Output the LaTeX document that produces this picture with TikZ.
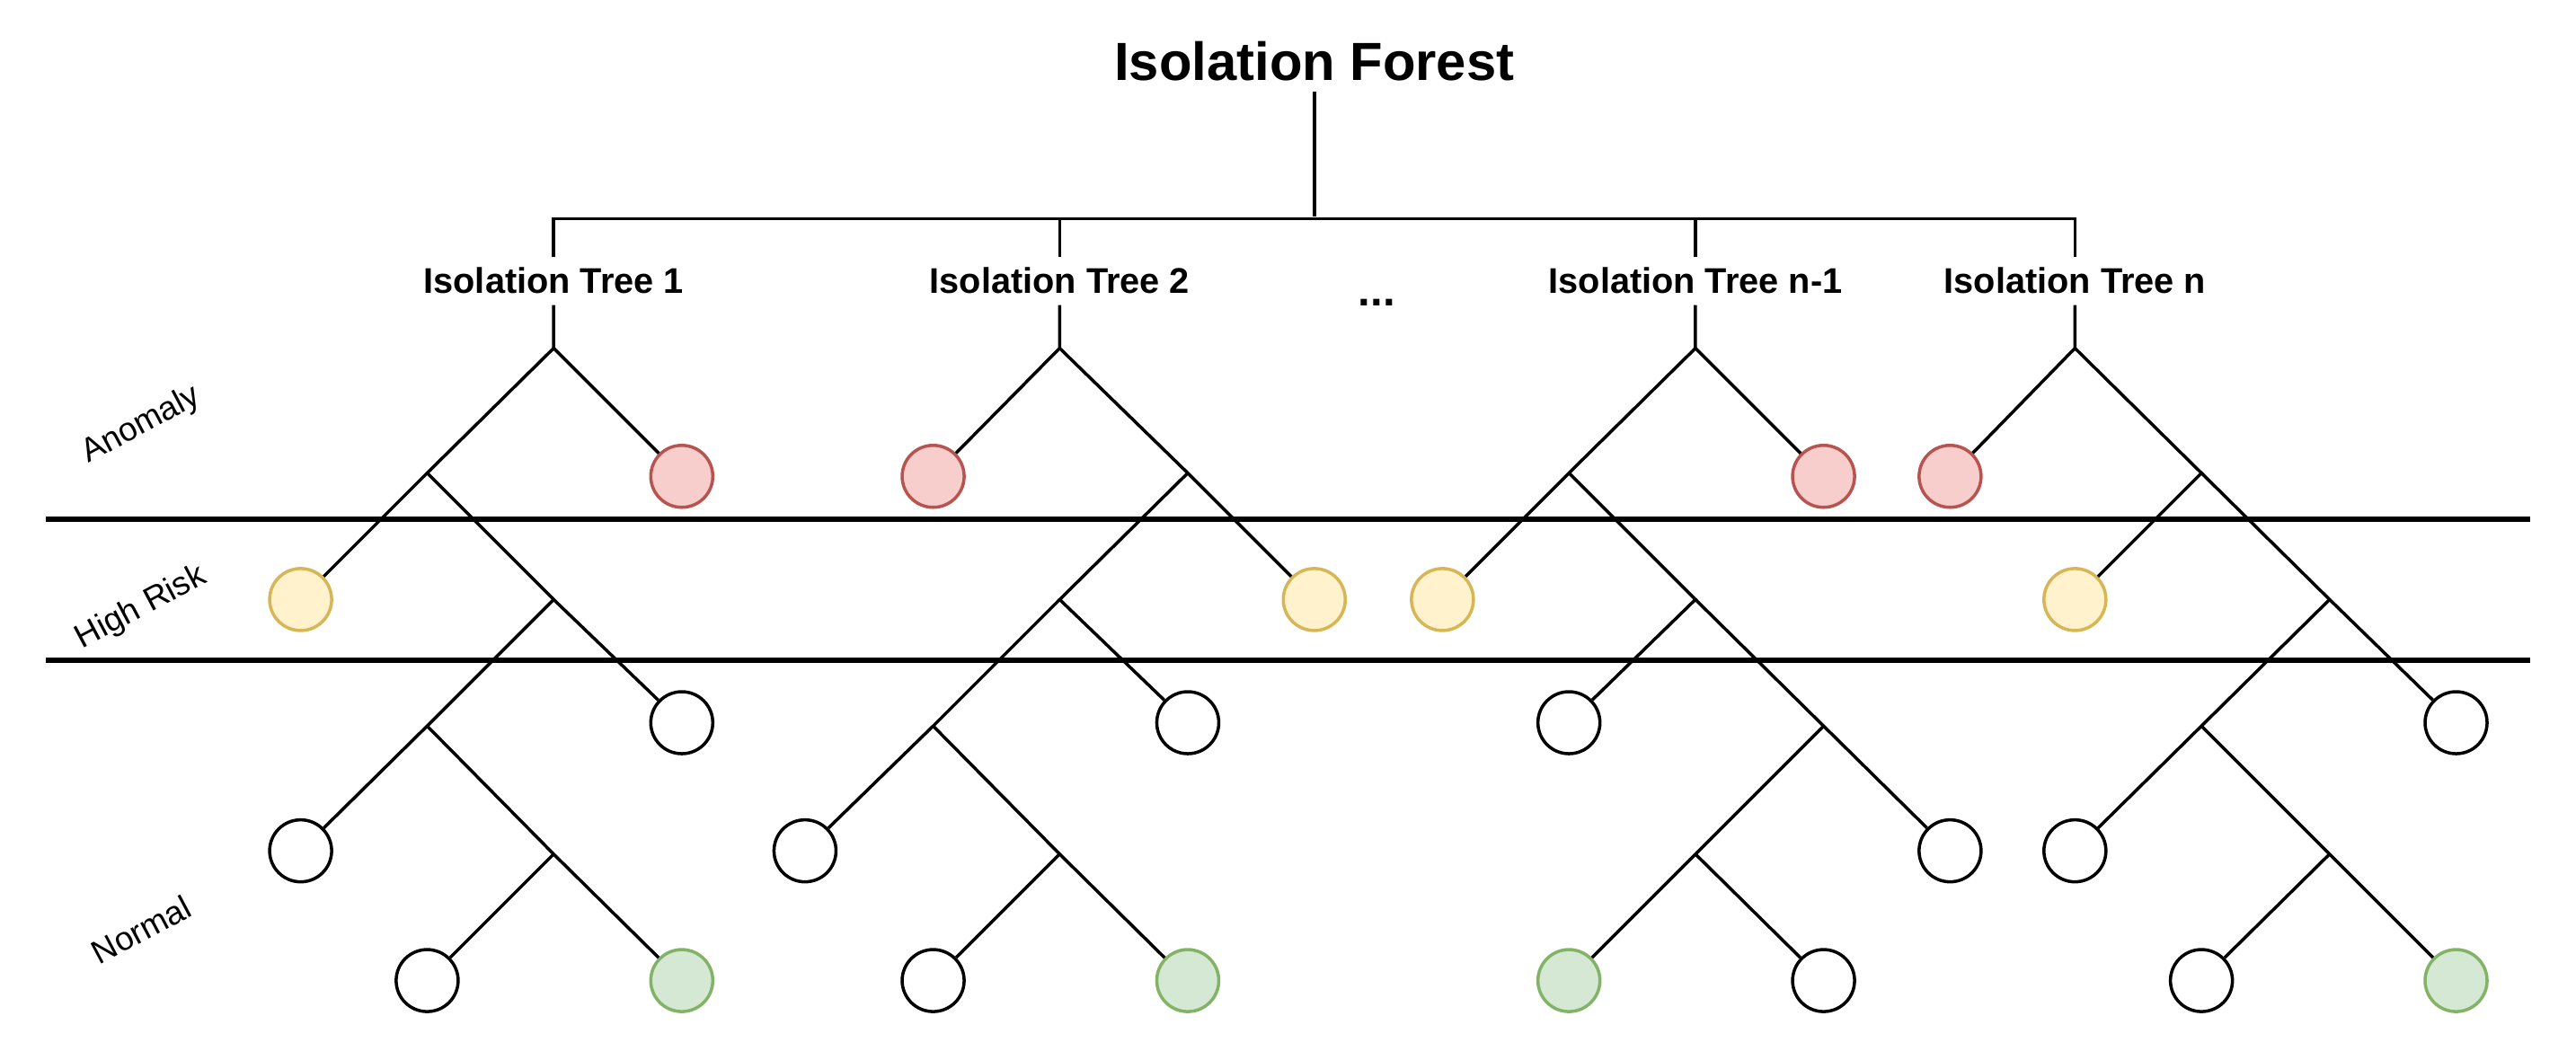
\documentclass[tikz,border=0pt]{standalone}
\usepackage{fontspec}
\setmainfont{Liberation Sans}
\definecolor{redline}{HTML}{B85450}\definecolor{redfill}{HTML}{F8CECC}
\definecolor{yelline}{HTML}{D6B656}\definecolor{yelfill}{HTML}{FFF2CC}
\definecolor{grnline}{HTML}{82B366}\definecolor{grnfill}{HTML}{D5E8D4}
\begin{document}
\begin{tikzpicture}[x=0.01828cm,y=-0.01828cm,
	leaf/.style={circle,draw=black,fill=white,line width=1pt,minimum size=0.69cm,inner sep=0pt},
	anomaly/.style={leaf,draw=redline,fill=redfill},
	risk/.style={leaf,draw=yelline,fill=yelfill},
	normal/.style={leaf,draw=grnline,fill=grnfill},
	treelabel/.style={font=\bfseries\fontsize{11.3}{13}\selectfont},
	band/.style={font=\fontsize{10.5}{12}\selectfont,rotate=28},
	branch/.style={line width=1pt}
]
\useasboundingbox (0,0) rectangle (1568,645);

% Titel
\node[font=\bfseries\fontsize{17}{20}\selectfont] (title) at (800,37) {Isolation Forest};
\coordinate (top) at (800,132);
\node[treelabel] (t1) at (337,171) {Isolation Tree 1};
\node[treelabel] (t2) at (645,171) {Isolation Tree 2};
\node[treelabel] (t3) at (1032,171) {Isolation Tree n-1};
\node[treelabel] (t4) at (1263,171) {Isolation Tree n};
\node[font=\bfseries\fontsize{14}{16}\selectfont] (dots) at (838,184) {...};
\draw[branch] (title.south) -- (top);
\draw[branch] (t1.north) -- ++(0,-23) -| (t4.north);
\draw[branch] (t2.north) -- ++(0,-23);
\draw[branch] (t3.north) -- ++(0,-23);

% Zonen
\coordinate (b1l) at (28,316); \coordinate (b1r) at (1540,316);
\coordinate (b2l) at (28,402); \coordinate (b2r) at (1540,402);
\draw[line width=1.6pt] (b1l) -- (b1r);
\draw[line width=1.6pt] (b2l) -- (b2r);
\node[band] (z1) at (86,259) {Anomaly};
\node[band] (z2) at (86,370) {High Risk};
\node[band] (z3) at (86,566) {Normal};

% Baum 1
\coordinate (r1) at (337,212); \coordinate (a1) at (260,288); \coordinate (b1) at (337,365);
\coordinate (c1) at (260,442); \coordinate (d1) at (337,520);
\node[anomaly] (l11) at (415,290) {};
\node[risk] (l12) at (183,365) {};
\node[leaf] (l13) at (415,440) {};
\node[leaf] (l14) at (183,518) {};
\node[normal] (l15) at (415,597) {};
\node[leaf] (l16) at (260,597) {};
\draw[branch] (t1.south) -- (r1) -- (l11);
\draw[branch] (r1) -- (a1) -- (l12);
\draw[branch] (a1) -- (b1) -- (l13);
\draw[branch] (b1) -- (c1) -- (l14);
\draw[branch] (c1) -- (d1) -- (l15);
\draw[branch] (d1) -- (l16);

% Baum 2
\coordinate (r2) at (645,212); \coordinate (a2) at (723,288); \coordinate (b2) at (645,365);
\coordinate (c2) at (568,442); \coordinate (d2) at (645,520);
\node[anomaly] (l21) at (568,290) {};
\node[risk] (l22) at (800,365) {};
\node[leaf] (l23) at (723,440) {};
\node[leaf] (l24) at (490,518) {};
\node[normal] (l25) at (723,597) {};
\node[leaf] (l26) at (568,597) {};
\draw[branch] (t2.south) -- (r2) -- (l21);
\draw[branch] (r2) -- (a2) -- (l22);
\draw[branch] (a2) -- (b2) -- (l23);
\draw[branch] (b2) -- (c2) -- (l24);
\draw[branch] (c2) -- (d2) -- (l25);
\draw[branch] (d2) -- (l26);

% Baum n-1
\coordinate (r3) at (1032,212); \coordinate (a3) at (955,288); \coordinate (b3) at (1032,365);
\coordinate (c3) at (1110,442); \coordinate (d3) at (1032,520);
\node[anomaly] (l31) at (1110,290) {};
\node[risk] (l32) at (878,365) {};
\node[leaf] (l33) at (955,440) {};
\node[leaf] (l34) at (1187,518) {};
\node[normal] (l35) at (955,597) {};
\node[leaf] (l36) at (1110,597) {};
\draw[branch] (t3.south) -- (r3) -- (l31);
\draw[branch] (r3) -- (a3) -- (l32);
\draw[branch] (a3) -- (b3) -- (l33);
\draw[branch] (b3) -- (c3) -- (l34);
\draw[branch] (c3) -- (d3) -- (l35);
\draw[branch] (d3) -- (l36);

% Baum n
\coordinate (r4) at (1263,212); \coordinate (a4) at (1340,288); \coordinate (b4) at (1418,365);
\coordinate (c4) at (1340,442); \coordinate (d4) at (1418,520);
\node[anomaly] (l41) at (1187,290) {};
\node[risk] (l42) at (1263,365) {};
\node[leaf] (l43) at (1495,440) {};
\node[leaf] (l44) at (1263,518) {};
\node[normal] (l45) at (1495,597) {};
\node[leaf] (l46) at (1340,597) {};
\draw[branch] (t4.south) -- (r4) -- (l41);
\draw[branch] (r4) -- (a4) -- (l42);
\draw[branch] (a4) -- (b4) -- (l43);
\draw[branch] (b4) -- (c4) -- (l44);
\draw[branch] (c4) -- (d4) -- (l45);
\draw[branch] (d4) -- (l46);

\end{tikzpicture}
\end{document}
